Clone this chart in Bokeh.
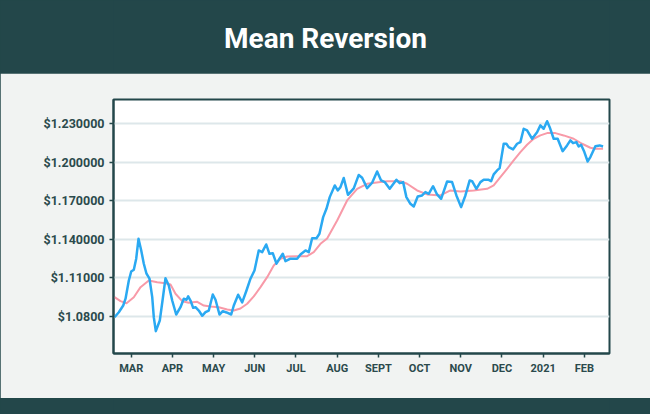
from bokeh.plotting import figure
from bokeh.models import Label, FixedTicker, Range1d
from bokeh.layouts import column
from bokeh.embed import file_html
from bokeh.resources import INLINE

# ---- data (x = month position, 0 = MAR 2020 ... 11 = FEB 2021) ----
month_labels = ["MAR", "APR", "MAY", "JUN", "JUL", "AUG", "SEPT", "OCT", "NOV", "DEC", "2021", "FEB"]
y_ticks = [1.08, 1.11, 1.14, 1.17, 1.20, 1.23]
y_tick_labels = ["$1.0800", "$1.11000", "$1.140000", "$1.170000", "$1.200000", "$1.230000"]

price_x = [-0.405, -0.301, -0.194, -0.138, -0.058, 0.0, 0.063, 0.121, 0.177, 0.243, 0.306, 0.371,
           0.444, 0.510, 0.548, 0.597, 0.694, 0.760, 0.832, 0.912, 0.995, 1.092, 1.196, 1.276,
           1.342, 1.383, 1.439, 1.504, 1.560, 1.640, 1.723, 1.803, 1.883, 1.980, 2.046, 2.143,
           2.223, 2.313, 2.427, 2.490, 2.596, 2.694, 2.798, 2.895, 2.992, 3.096, 3.179, 3.276,
           3.356, 3.436, 3.526, 3.599, 3.679, 3.744, 3.866, 4.028, 4.108, 4.230, 4.310, 4.392,
           4.497, 4.569, 4.659, 4.739, 4.819, 4.941, 5.013, 5.079, 5.159, 5.261, 5.402, 5.523,
           5.605, 5.727, 5.848, 5.969, 6.066, 6.154, 6.275, 6.438, 6.518, 6.600, 6.680, 6.777,
           6.858, 6.955, 7.061, 7.141, 7.222, 7.328, 7.425, 7.523, 7.668, 7.789, 7.894, 8.008,
           8.112, 8.216, 8.275, 8.379, 8.476, 8.556, 8.678, 8.736, 8.799, 8.881, 8.944, 9.042,
           9.107, 9.163, 9.270, 9.367, 9.447, 9.527, 9.609, 9.731, 9.852, 9.932, 10.012, 10.095,
           10.158, 10.255, 10.352, 10.473, 10.580, 10.660, 10.725, 10.806, 10.861, 10.920, 11.000,
           11.080, 11.146, 11.267, 11.371, 11.454]
price_y = [1.0792, 1.0831, 1.0883, 1.0936, 1.1078, 1.1148, 1.1162, 1.1248, 1.1403, 1.1312, 1.1209, 1.1131,
           1.1092, 1.0948, 1.0792, 1.0683, 1.0766, 1.0922, 1.1096, 1.1039, 1.0922, 1.0813, 1.0870, 1.0936,
           1.0928, 1.0954, 1.0922, 1.0865, 1.0870, 1.0844, 1.0803, 1.0831, 1.0844, 1.0969, 1.0928, 1.0813,
           1.0839, 1.0829, 1.0813, 1.0883, 1.0967, 1.0907, 1.1000, 1.1092, 1.1156, 1.1312, 1.1299, 1.1359,
           1.1286, 1.1291, 1.1209, 1.1248, 1.1287, 1.1229, 1.1248, 1.1248, 1.1281, 1.1312, 1.1299, 1.1408,
           1.1408, 1.1442, 1.1572, 1.1637, 1.1728, 1.1819, 1.1780, 1.1806, 1.1877, 1.1746, 1.1796, 1.1901,
           1.1879, 1.1798, 1.1840, 1.1928, 1.1858, 1.1845, 1.1793, 1.1863, 1.1837, 1.1845, 1.1728, 1.1676,
           1.1655, 1.1733, 1.1741, 1.1767, 1.1754, 1.1813, 1.1749, 1.1715, 1.1850, 1.1845, 1.1741, 1.1650,
           1.1741, 1.1858, 1.1852, 1.1793, 1.1845, 1.1863, 1.1863, 1.1852, 1.1905, 1.1936, 1.1954, 1.2144,
           1.2144, 1.2118, 1.2100, 1.2144, 1.2157, 1.2261, 1.2248, 1.2183, 1.2234, 1.2287, 1.2261, 1.2320,
           1.2273, 1.2183, 1.2183, 1.2086, 1.2131, 1.2170, 1.2149, 1.2157, 1.2123, 1.2136, 1.2079,
           1.2006, 1.2040, 1.2125, 1.2131, 1.2123]

mean_x = [-0.405, -0.260, -0.114, 0.063, 0.226, 0.427, 0.631, 0.832, 0.954, 1.075, 1.238, 1.398,
          1.602, 1.762, 1.924, 2.126, 2.330, 2.490, 2.652, 2.815, 2.975, 3.138, 3.300, 3.460,
          3.623, 3.785, 4.028, 4.271, 4.431, 4.594, 4.756, 4.999, 5.241, 5.484, 5.727, 6.050,
          6.212, 6.535, 6.697, 6.940, 7.183, 7.505, 7.748, 7.991, 8.314, 8.639, 8.799, 8.961,
          9.124, 9.284, 9.447, 9.609, 9.770, 9.932, 10.095, 10.296, 10.497, 10.740, 10.944,
          11.146, 11.267, 11.454]
mean_y = [1.0948, 1.0917, 1.0901, 1.0948, 1.1026, 1.1078, 1.1065, 1.1057, 1.1047, 1.0975, 1.0917, 1.0904,
          1.0912, 1.0883, 1.0876, 1.0870, 1.0852, 1.0844, 1.0860, 1.0897, 1.0954, 1.1026, 1.1104, 1.1195,
          1.1248, 1.1265, 1.1268, 1.1268, 1.1299, 1.1364, 1.1406, 1.1546, 1.1702, 1.1793, 1.1832, 1.1845,
          1.1852, 1.1852, 1.1832, 1.1780, 1.1749, 1.1741, 1.1780, 1.1772, 1.1780, 1.1793, 1.1819, 1.1884,
          1.1949, 1.2014, 1.2079, 1.2136, 1.2183, 1.2209, 1.2227, 1.2227, 1.2209, 1.2183, 1.2144,
          1.2113, 1.2105, 1.2105]

# ---- styling ----
DARK = "#23474a"
BG = "#f1f3f2"
TEXT = "#2b4a4c"
GRID = "#dde7ea"
BLUE = "#2aa9f2"
PINK = "#f89aa8"
FONT = "Roboto"
W = 650
FRAME_L, FRAME_R = 113, 41   # chart frame borders (px)


def band(height):
    f = figure(width=W, height=height, output_backend="svg", toolbar_location=None,
               x_range=Range1d(0, 1), y_range=Range1d(0, 1),
               x_axis_type=None, y_axis_type=None, min_border=0)
    f.background_fill_color = DARK
    f.border_fill_color = DARK
    f.outline_line_color = None
    f.xgrid.visible = False
    f.ygrid.visible = False
    return f


# header with title (its frame is aligned with the chart frame in the column)
header = band(73)
frame_w = W - FRAME_L - FRAME_R
header.add_layout(Label(x=(W / 2 - FRAME_L) / frame_w, y=0.48, text="Mean Reversion",
                        text_align="center", text_baseline="alphabetic", text_color="white",
                        text_font=FONT, text_font_size="28px", text_font_style="bold"))

# main chart
p = figure(width=W, height=325, output_backend="svg", toolbar_location=None,
           x_range=Range1d(-0.43, 11.61), y_range=Range1d(1.0509, 1.2489),
           min_border_left=FRAME_L, min_border_right=FRAME_R, min_border_top=26, min_border_bottom=45)
p.background_fill_color = "white"
p.border_fill_color = BG
p.outline_line_color = DARK
p.outline_line_width = 2

p.line(mean_x, mean_y, line_color=PINK, line_width=2, line_join="round")
p.line(price_x, price_y, line_color=BLUE, line_width=2.5, line_join="round")

p.xaxis.ticker = FixedTicker(ticks=list(range(len(month_labels))))
p.xaxis.major_label_overrides = {i: lab for i, lab in enumerate(month_labels)}
p.yaxis.ticker = FixedTicker(ticks=y_ticks)
p.yaxis.major_label_overrides = {t: lab for t, lab in zip(y_ticks, y_tick_labels)}

for ax in (p.xaxis, p.yaxis):
    ax.axis_line_color = DARK
    ax.axis_line_width = 2
    ax.major_tick_line_color = DARK
    ax.major_tick_line_width = 1.5
    ax.major_tick_in = 0
    ax.major_tick_out = 4
    ax.minor_tick_line_color = None
    ax.major_label_text_color = TEXT
    ax.major_label_text_font = FONT
    ax.major_label_text_font_style = "bold"

p.yaxis.major_label_text_font_size = "12.5px"
p.yaxis.major_label_standoff = 5
p.xaxis.major_label_text_font_size = "11px"
p.xaxis.major_label_standoff = 4

p.xgrid.grid_line_color = None
p.ygrid.ticker = FixedTicker(ticks=y_ticks)
p.ygrid.grid_line_color = GRID
p.ygrid.grid_line_width = 2

# footer band
footer = band(16)

layout = column(header, p, footer, spacing=0, styles={"background-color": DARK})

open("out.html", "w").write(file_html(layout, INLINE))
